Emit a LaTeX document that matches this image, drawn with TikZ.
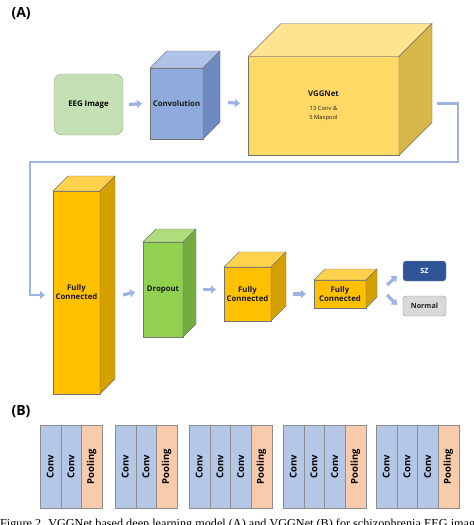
\documentclass[tikz,border=0pt]{standalone}
\usepackage{fontspec}
\setmainfont{Open Sans}
\newfontfamily\capfont{Liberation Serif}
\usepackage{xcolor}
\usetikzlibrary{arrows.meta, positioning}
\definecolor{eeggreen}{HTML}{C5E0B4}
\definecolor{eegedge}{HTML}{8FAF7A}
\definecolor{convfront}{HTML}{8FAADC}
\definecolor{convtop}{HTML}{AFC3E8}
\definecolor{convside}{HTML}{6E8AC0}
\definecolor{vggfront}{HTML}{FFD966}
\definecolor{vggtop}{HTML}{FFE38F}
\definecolor{vggside}{HTML}{D9B649}
\definecolor{fcfront}{HTML}{FFC000}
\definecolor{fctop}{HTML}{FFD24D}
\definecolor{fcside}{HTML}{D4A000}
\definecolor{dropfront}{HTML}{92D050}
\definecolor{droptop}{HTML}{AEDD7C}
\definecolor{dropside}{HTML}{74AD3F}
\definecolor{szblue}{HTML}{2F5597}
\definecolor{normgray}{HTML}{D9D9D9}
\definecolor{flowblue}{HTML}{9DB4E2}
\definecolor{layconv}{HTML}{B4C7E7}
\definecolor{laypool}{HTML}{F8CBAD}
\tikzset{
  cubeface/.style={rectangle,draw=black!55,thin,outer sep=0pt,inner sep=1pt,align=center,
    font=\fontsize{7.8}{9}\selectfont\bfseries,text=black!90},
  convcube/.style={cubeface,fill=convfront},
  vggcube/.style={cubeface,fill=vggfront},
  fccube/.style={cubeface,fill=fcfront},
  dropcube/.style={cubeface,fill=dropfront},
  outbox/.style={rectangle,rounded corners=3pt,draw=black!45,thin,minimum width=43pt,minimum height=20pt,
    outer sep=0pt,font=\fontsize{7.2}{8}\selectfont\bfseries},
  flowarrow/.style={-{Triangle[length=5pt,width=8pt]},line width=3.2pt,flowblue},
  linkline/.style={-{Triangle[length=5pt,width=8pt]},line width=2.6pt,flowblue},
  laybox/.style={rectangle,draw=black!45,thin,minimum width=20.7pt,minimum height=83pt,outer sep=0pt,
    font=\fontsize{9.5}{10}\selectfont\bfseries},
  panellabel/.style={font=\fontsize{14}{16}\selectfont\bfseries,anchor=west},
}
\newcommand{\vggnote}{\fontsize{5.8}{6.8}\selectfont\mdseries}
\begin{document}
\begin{tikzpicture}[x=1pt,y=-1pt]
  \useasboundingbox (0,0) rectangle (474,525);
  \clip (0,0) rectangle (474,525);
  % panel A
  \node[panellabel] (labA) at (8,14) {(A)};
  \node[rectangle,rounded corners=8pt,draw=eegedge,fill=eeggreen,thin,minimum width=69pt,minimum height=61pt,
    outer sep=0pt,font=\fontsize{7.8}{9}\selectfont\bfseries] (eeg) at (88.5,104.5) {EEG Image};
  \node[convcube,minimum width=53pt,minimum height=71pt] (conv) at (176.5,103.5) {Convolution};
  \node[vggcube,minimum width=151pt,minimum height=99pt] (vgg) at (323.5,106)
    {VGGNet\\[5pt]\vggnote 13 Conv \&\\\vggnote 5 Maxpool};
  \node[fccube,minimum width=47pt,minimum height=203pt] (fc1) at (76.5,292.5) {Fully\\Connected};
  \node[dropcube,minimum width=40pt,minimum height=95pt] (drop) at (163,289.5) {Dropout};
  \node[fccube,minimum width=47pt,minimum height=54pt] (fc2) at (247.5,294) {Fully\\Connected};
  \node[fccube,minimum width=52pt,minimum height=28pt] (fc3) at (340,294) {Fully\\Connected};
  \node[outbox,fill=szblue,text=white] (sz) at (424.5,271) {SZ};
  \node[outbox,fill=normgray,text=black!85] (normal) at (424.5,306) {Normal};
  % top and side faces
  \foreach \n/\d/\ct/\cs in {conv/17/convtop/convside, vgg/33/vggtop/vggside, fc1/15/fctop/fcside,
      drop/13/droptop/dropside, fc2/15/fctop/fcside, fc3/11/fctop/fcside}{
    \draw[draw=black!55,thin,fill=\ct] (\n.north west) -- ([shift={(\d,-\d)}]\n.north west)
      -- ([shift={(\d,-\d)}]\n.north east) -- (\n.north east) -- cycle;
    \draw[draw=black!55,thin,fill=\cs] (\n.north east) -- ([shift={(\d,-\d)}]\n.north east)
      -- ([shift={(\d,-\d)}]\n.south east) -- (\n.south east) -- cycle;
  }
  % flow
  \draw[flowarrow] ([xshift=6pt]eeg.east) -- ([xshift=-8pt]conv.west);
  \draw[flowarrow] ([xshift=25pt,yshift=1pt]conv.east) -- ([xshift=-8pt]conv.east -| vgg.west);
  \coordinate (bendR) at (458,162);
  \coordinate (bendL) at (30,162);
  \draw[linkline] ([xshift=38pt]conv.east -| vgg.east) -| (bendR) -- (bendL) |- ([xshift=-8pt,yshift=-2.5pt]fc1.west);
  \draw[flowarrow] ([xshift=23pt,yshift=-2.5pt]fc1.east) -- ([xshift=-8pt,yshift=-2.5pt]drop.west);
  \draw[flowarrow] ([xshift=20pt]drop.east) -- ([xshift=-8pt]drop.east -| fc2.west);
  \draw[flowarrow] ([xshift=22pt]fc2.east) -- ([xshift=-8pt]fc3.west);
  \draw[flowarrow] ([xshift=21pt,yshift=9pt]fc3.east) -- ([xshift=-6pt,yshift=5pt]sz.south west);
  \draw[flowarrow] ([xshift=21pt,yshift=-1pt]fc3.east) -- ([xshift=-6pt,yshift=1pt]normal.west);
  % panel B
  \node[panellabel] (labB) at (8,412) {(B)};
  \foreach \gx/\nc [count=\g] in {40/2, 115/2, 189/3, 283/3, 376/3}{
    \foreach \k in {1,...,\nc}{
      \node[laybox,fill=layconv] (c\g-\k) at ({\gx+(\k-0.5)*20.7},466.5) {\rotatebox{90}{Conv}};
    }
    \node[laybox,fill=laypool] (p\g) at ({\gx+(\nc+0.5)*20.7},466.5) {\rotatebox{90}{Pooling}};
  }
  % caption (cut off by the page edge)
  \node[anchor=base west,inner sep=0pt,font=\capfont\fontsize{12.2}{14}\selectfont] (cap) at (0,527)
    {Figure 2. VGGNet based deep learning model (A) and VGGNet (B) for schizophrenia EEG images};
\end{tikzpicture}
\end{document}
